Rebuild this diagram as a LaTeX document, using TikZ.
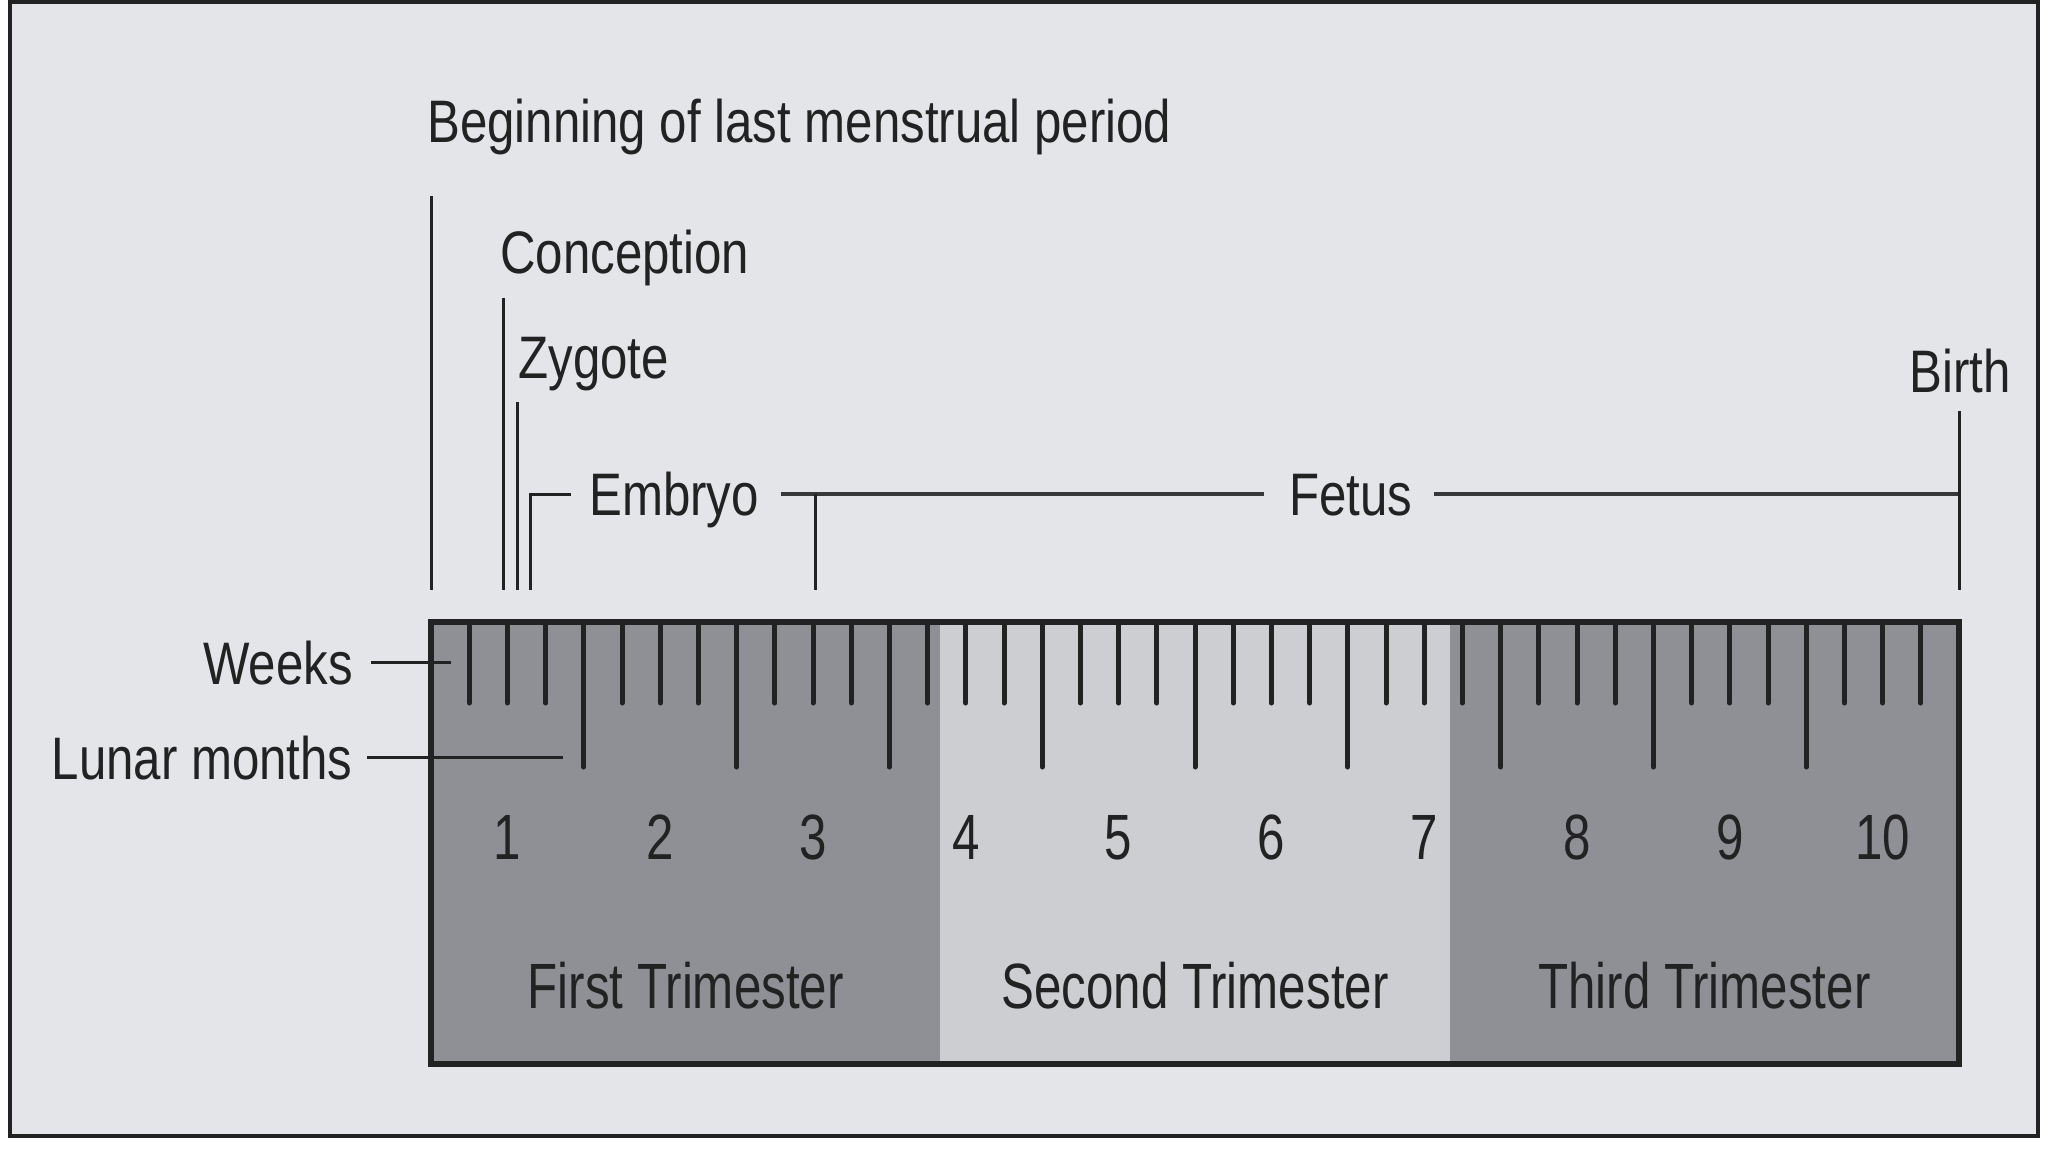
\documentclass[tikz,border=0pt]{standalone}
\usepackage{fontspec}
\newfontfamily\fa[FakeStretch=0.82]{Liberation Sans}
\newfontfamily\fb[FakeStretch=0.77]{Liberation Sans}
\definecolor{bgc}{HTML}{E3E5E8}
\definecolor{darkc}{HTML}{8E9095}
\definecolor{lightc}{HTML}{CDCED1}
\definecolor{inkc}{HTML}{222222}
\tikzset{
  lbl/.style={inner sep=0pt, text=inkc, font=\fa\fontsize{30}{32}\selectfont},
  rlbl/.style={inner sep=0pt, text=inkc, font=\fb\fontsize{32}{34}\selectfont},
  thin/.style={draw=inkc, line width=1.5pt},
  hline/.style={draw=inkc!90, line width=2pt},
  tick/.style={draw=inkc, line width=2.5pt, line cap=round},
}
\begin{document}
\begin{tikzpicture}[x=0.5pt, y=-0.5pt]
\useasboundingbox (0,0) rectangle (2048,1152);
\fill[white] (0,0) rectangle (2048,1152);
\draw[fill=bgc, draw=inkc, line width=2pt] (10,2) rectangle (2038,1136);

% ruler body
\fill[darkc] (431,622) rectangle (940.3,1064);
\fill[lightc] (940.3,622) rectangle (1449.7,1064);
\fill[darkc] (1449.7,622) rectangle (1959,1064);
\foreach \i in {1,...,39}{
  \draw[tick] (431+\i*38.2,624) -- (431+\i*38.2,703);
}
\foreach \i in {4,8,...,36}{
  \draw[tick] (431+\i*38.2,624) -- (431+\i*38.2,767);
}
\draw[draw=inkc, line width=3pt] (431,622) rectangle (1959,1064);

% month numbers
\foreach \k in {1,...,10}{
  \node[rlbl, anchor=base] (m\k) at (431+\k*152.8-76.4,859) {\k};
}
\node[rlbl, anchor=base] (t1) at (685.7,1008) {First Trimester};
\node[rlbl, anchor=base] (t2) at (1195,1008) {Second Trimester};
\node[rlbl, anchor=base] (t3) at (1704.3,1008) {Third Trimester};

% side labels
\node[lbl, anchor=base east] (weeks) at (353,684) {Weeks};
\node[lbl, anchor=base east] (lunar) at (353,779) {Lunar months};
\coordinate (weeksEnd) at (451,662);
\coordinate (lunarEnd) at (563,757);
\draw[thin] ([xshift=9pt]weeks.east |- weeksEnd) -- (weeksEnd);
\draw[thin] ([xshift=7pt]lunar.east |- lunarEnd) -- (lunarEnd);

% top labels
\node[lbl, anchor=base west] (lmp) at (427,142) {Beginning of last menstrual period};
\node[lbl, anchor=base west] (conc) at (500,273) {Conception};
\node[lbl, anchor=base west] (zyg) at (518,378) {Zygote};
\node[lbl, anchor=base west] (emb) at (589,515) {Embryo};
\node[lbl, anchor=base west] (fet) at (1289,515) {Fetus};
\node[lbl, anchor=base] (birth) at (1960,392) {Birth};

\coordinate (lmpT) at (431,196);   \coordinate (lmpB) at (431,590);
\coordinate (concT) at (503,298);  \coordinate (concB) at (503,590);
\coordinate (zygT) at (517,402);   \coordinate (zygB) at (517,590);
\coordinate (embB) at (530,590);   \coordinate (embH) at (571,494);
\coordinate (fetA) at (781,494);   \coordinate (fetB) at (1264,494);
\coordinate (fetC) at (1434,494);  \coordinate (fetD) at (1959,494);
\coordinate (fetT) at (815,494);   \coordinate (fetTB) at (815,590);
\coordinate (birT) at (1959,411);  \coordinate (birB) at (1959,590);

\draw[thin] (lmpT) -- (lmpB);
\draw[thin] (concT) -- (concB);
\draw[thin] (zygT) -- (zygB);
\draw[thin] (embB) |- (embH);
\draw[hline] (fetA) -- (fetB);
\draw[hline] (fetC) -- (fetD);
\draw[thin] (fetT) -- (fetTB);
\draw[thin] (birT) -- (birB);
\end{tikzpicture}
\end{document}
